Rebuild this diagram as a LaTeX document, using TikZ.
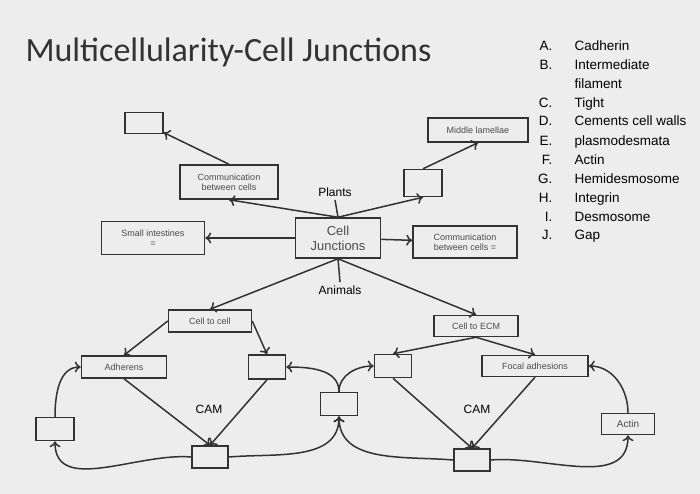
\documentclass[tikz,border=0pt]{standalone}
\usepackage{fontspec}
\setmainfont{Liberation Sans}
\newfontfamily\titlefont{Carlito}
\usetikzlibrary{positioning,arrows.meta}
\tikzset{box/.style={draw=black!80, line width=1.5pt, inner sep=0pt, align=center, font=\fontsize{9}{10}\selectfont, text=black!70},
  con/.style={-{To[length=6pt,width=11pt]}, line width=1.5pt, draw=black!80}}
\begin{document}
\begin{tikzpicture}[x=1pt,y=-1pt]
    \fill[black!7] (0,0) rectangle (700,494);
    \useasboundingbox (0,0) rectangle (700,494);
    \node[anchor=west, font=\titlefont\fontsize{34}{36}\selectfont, text=black!80] (title) at (22,52) {Multicellularity-Cell Junctions};
    % answer list
    \foreach \l/\t/\y in {A./Cadherin/51, B./Intermediate/70, /filament/89, C./Tight/108, D./Cements cell walls/126,
        E./plasmodesmata/146, F./Actin/165, G./Hemidesmosome/184, H./Integrin/202, I./Desmosome/221, J./Gap/239}
        {\node[anchor=base east, font=\fontsize{13.5}{14}\selectfont] at (556,\y) {\l};
         \node[anchor=base west, font=\fontsize{13.5}{14}\selectfont] at (571,\y) {\t};}
    % plants
    \node[box, minimum width=85pt, minimum height=40pt, font=\fontsize{13}{15}\selectfont] (cj) at (338,238) {Cell\\Junctions};
    \node[font=\fontsize{12}{14}\selectfont] (plants) at (335,192) {Plants};
    \node[font=\fontsize{12}{14}\selectfont] (animals) at (340,290) {Animals};
    \node[box, minimum width=98pt, minimum height=34pt] (comm) at (229,182) {Communication\\between cells};
    \node[box, minimum width=38pt, minimum height=21pt] (e1) at (144,123) {};
    \node[box, minimum width=103pt, minimum height=33pt] (small) at (153,238) {Small intestines\\=};
    \node[box, minimum width=104pt, minimum height=32pt] (comm2) at (465,242) {Communication\\between cells =};
    \node[box, minimum width=38pt, minimum height=27pt] (e2) at (423,183) {};
    \node[box, minimum width=100pt, minimum height=24pt] (lam) at (478,130) {Middle lamellae};
    \draw[line width=1.5pt, black!80] (cj.north) -- (plants.south) (cj.south) -- (animals.north);
    \draw[con] (cj.north) -- (comm.south);
    \draw[con] (comm.north) -- (e1);
    \draw[con] (cj.north) -- (e2.south);
    \draw[con] (e2.north) -- (lam.south);
    \draw[con] (cj) -- (small);
    \draw[con] (cj) -- (comm2);
    % animals
    \node[box, minimum width=83pt, minimum height=22pt] (ctc) at (210,321) {Cell to cell};
    \node[box, minimum width=84pt, minimum height=21pt] (ecm) at (476,326) {Cell to ECM};
    \node[box, minimum width=85pt, minimum height=22pt] (adh) at (124,367) {Adherens};
    \node[box, minimum width=37pt, minimum height=24pt] (e3) at (267,367) {};
    \node[box, minimum width=37pt, minimum height=23pt] (e4) at (339,404) {};
    \node[box, minimum width=37pt, minimum height=23pt] (e5) at (393,366) {};
    \node[box, minimum width=106pt, minimum height=21pt] (focal) at (535,366) {Focal adhesions};
    \node[box, minimum width=38pt, minimum height=23pt] (e6) at (55,429) {};
    \node[box, minimum width=36pt, minimum height=22pt] (e7) at (210,457) {};
    \node[box, minimum width=36pt, minimum height=22pt] (e8) at (472,460) {};
    \node[box, minimum width=53pt, minimum height=21pt, font=\fontsize{10}{11}\selectfont] (actin) at (628,424) {Actin};
    \node[font=\fontsize{12}{14}\selectfont] (cam1) at (209,409) {CAM};
    \node[font=\fontsize{12}{14}\selectfont] (cam2) at (477,409) {CAM};
    \draw[con] (cj.south) -- (ctc.north);
    \draw[con] (cj.south) -- (ecm.north);
    \draw[con] (ctc.west) -- (adh.north);
    \draw[con] (ctc.east) -- (e3.north);
    \draw[con] (ecm.south) -- (e5.north);
    \draw[con] (ecm.south) -- (focal.north);
    \draw[con] (adh.south) -- (e7.north);
    \draw[con] (e3.south) -- (e7.north);
    \draw[con] (e5.south) -- (e8.north);
    \draw[con] (focal.south) -- (e8.north);
    \draw[con] (e6.north) to[out=90, in=180] (adh.west);
    \draw[con] (e7.west) to[out=175, in=-90] (e6.south);
    \draw[con] (e7.east) to[out=5, in=-90] (e4.south);
    \draw[con] (e4.north) to[out=90, in=0] (e3.east);
    \draw[con] (e4.north) to[out=90, in=180] (e5.west);
    \draw[con] (e8.west) to[out=175, in=-90] (e4.south);
    \draw[con] (e8.east) to[out=5, in=-90] (actin.south);
    \draw[con] (actin.north) to[out=90, in=0] (focal.east);
\end{tikzpicture}
\end{document}
